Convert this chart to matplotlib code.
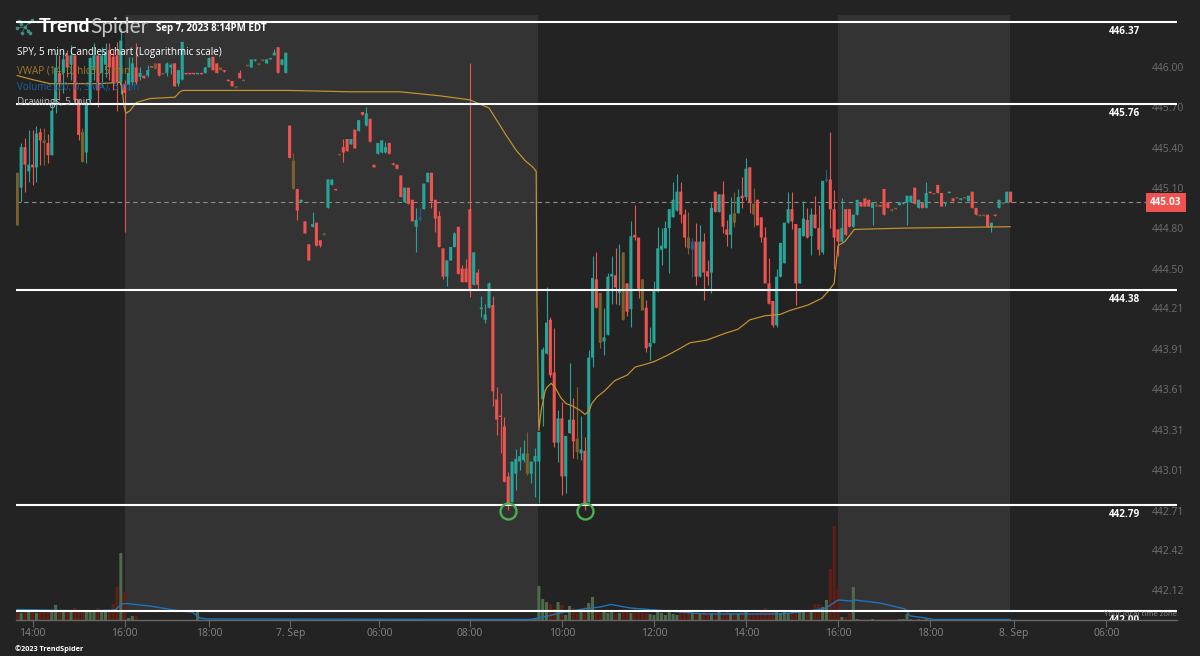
import matplotlib
matplotlib.use("Agg")
import matplotlib.pyplot as plt
from matplotlib.lines import Line2D
from matplotlib.transforms import ScaledTranslation

plt.rcParams['font.family'] = ['Open Sans', 'DejaVu Sans']

tones = ("ygrgrgryrg" "grgrgrrygg" "grggrrrgrg" "grgrgryryg" "grggrrrgrg"
         "grryrrryry" "yggyygggrg" "gryrgrrgrr" "yggryrrgrg" "rgrrgggrrr"
         "rgrrgbggrr" "rrgggrrrrg" "rgggrrrrrg" "gggygggggr"
         "rgrggrygrg" "grygggrgyr" "grryrggggg" "gggrrybrgr" "rgrgrrgygr"
         "gryrrrrrgg" "ggrrggrgrr" "gbrrrgrrgg" "rrrgyrrryy" "ggggrgrgry"
         "rrggrygygr" "ryyrgrgygr")

body_top = [
 445.25,445.44,445.44,445.31,445.31,445.54,445.55,445.49,445.47,445.71,
 446.03,445.99,446.09,446.12,446.12,446.12,445.79,445.55,445.77,446.10,
 446.12,446.12,446.12,446.14,446.16,446.11,446.12,446.23,445.91,445.99,
 446.06,446.03,445.99,445.97,446.01,446.04,446.06,446.06,445.99,446.06,
 446.05,446.06,446.01,446.22,445.99,445.99,445.99,445.99,445.99,446.03,
 446.10,446.11,446.06,446.03,446.01,445.94,445.93,445.89,445.99,445.94,
 446.05,446.09,446.09,446.06,446.09,446.09,446.10,446.14,446.18,446.09,
 446.14,445.60,445.34,445.13,445.05,444.89,444.72,444.87,444.88,444.75,
 444.80,445.20,445.20,445.13,445.39,445.44,445.50,445.50,445.57,445.64,
 445.70,445.69,445.65,445.31,445.47,445.49,445.44,445.47,445.32,445.31,
 445.23,445.14,445.14,445.05,444.90,444.92,445.17,445.25,445.25,445.05,
 444.93,444.69,444.60,444.70,444.80,444.85,444.54,444.54,444.98,444.66,
 444.51,444.25,444.20,444.43,444.27,443.57,443.45,443.37,443.00,443.11,
 443.13,443.15,443.17,443.17,443.11,443.15,443.33,443.94,444.14,444.16,
 443.77,443.43,443.43,443.30,443.42,443.42,443.28,443.20,443.19,443.88,
 444.47,444.46,444.36,444.03,444.48,444.50,444.49,444.38,444.66,444.43,
 444.78,444.79,444.77,444.46,444.25,443.99,444.38,444.69,444.71,444.84,
 444.98,445.05,445.11,445.11,444.94,444.77,444.74,444.74,444.74,444.74,
 444.52,444.99,445.11,445.09,445.09,444.83,444.94,444.95,445.07,445.08,
 445.28,445.29,445.02,445.05,444.92,444.77,444.43,444.30,444.48,444.73,
 444.88,444.98,444.98,444.87,444.84,444.91,444.90,444.94,444.94,444.84,
 445.19,445.20,445.20,444.98,444.83,444.84,444.98,444.98,444.94,445.05,
 445.03,445.06,445.05,445.03,445.01,445.01,445.13,445.03,444.98,444.99,
 445.03,445.03,445.08,445.08,445.14,445.05,445.03,445.10,445.11,445.10,
 445.16,445.10,445.03,445.11,445.06,445.07,445.06,445.07,445.08,445.11,
 444.99,444.94,444.94,444.94,444.88,444.94,445.05,445.03,445.11,445.11]

body_bottom = [
 444.86,445.14,445.31,445.26,445.29,445.29,445.49,445.47,445.38,445.38,
 445.77,445.91,445.99,446.03,446.05,445.79,445.53,445.33,445.40,445.79,
 446.01,445.86,445.99,446.05,446.03,445.92,445.92,445.92,445.84,445.90,
 445.92,445.92,445.96,445.95,445.97,446.03,446.02,445.97,445.98,445.99,
 446.03,445.89,445.91,445.94,445.98,445.98,445.98,445.98,445.98,445.99,
 446.03,446.01,445.99,446.01,446.00,445.93,445.89,445.88,445.95,445.93,
 446.04,446.03,446.08,446.05,446.08,446.06,446.09,446.12,445.99,446.05,
 445.99,445.36,445.13,444.97,445.03,444.80,444.60,444.85,444.71,444.71,
 444.79,444.99,445.16,445.12,445.38,445.40,445.41,445.46,445.43,445.56,
 445.68,445.60,445.48,445.29,445.39,445.40,445.40,445.39,445.31,445.28,
 445.07,445.03,445.02,444.89,444.85,444.90,444.98,445.18,445.04,444.91,
 444.70,444.48,444.48,444.60,444.70,444.50,444.44,444.44,444.39,444.42,
 444.42,444.24,444.16,444.25,443.63,443.42,443.44,442.96,442.80,442.81,
 443.02,443.11,443.12,443.02,443.02,443.11,443.11,443.57,443.91,443.75,
 443.25,443.25,443.00,443.00,443.32,443.26,443.18,443.17,442.80,442.81,
 443.88,444.25,443.99,444.00,444.05,444.48,444.40,444.36,444.16,444.22,
 444.24,444.77,444.39,444.23,443.95,443.96,443.99,444.37,444.68,444.69,
 444.84,444.92,444.97,444.94,444.77,444.69,444.68,444.48,444.48,444.51,
 444.48,444.51,444.96,444.96,444.85,444.79,444.79,444.88,444.95,445.06,
 445.07,445.03,444.94,444.86,444.77,444.43,444.28,444.12,444.12,444.48,
 444.58,444.88,444.89,444.43,444.43,444.78,444.77,444.78,444.84,444.68,
 444.66,445.19,444.98,444.77,444.74,444.74,444.79,444.85,444.85,444.94,
 445.00,445.00,445.00,444.99,445.00,445.00,444.94,444.99,444.97,444.98,
 445.01,445.02,445.03,445.03,445.02,444.99,444.99,444.99,445.10,445.09,
 445.10,445.00,445.02,445.10,445.04,445.06,445.05,445.06,445.04,444.99,
 444.94,444.93,444.93,444.85,444.85,444.93,444.99,445.02,445.03,445.03]

highs = [
 445.25,445.47,445.51,445.57,445.57,445.60,445.58,445.58,445.54,445.77,
 446.14,446.12,446.16,446.16,446.20,446.12,445.79,445.58,445.80,446.11,
 446.21,446.12,446.18,446.21,446.21,446.17,446.22,446.32,445.94,446.11,
 446.11,446.21,446.03,445.97,446.05,446.04,446.06,446.06,445.99,446.07,
 446.06,446.06,446.01,446.22,445.99,445.99,445.99,445.99,445.99,446.03,
 446.11,446.11,446.06,446.03,446.01,445.94,445.93,445.89,446.01,445.94,
 446.05,446.09,446.09,446.06,446.09,446.09,446.10,446.17,446.18,446.09,
 446.14,445.60,445.40,445.13,445.05,444.89,444.72,444.96,444.88,444.75,
 444.80,445.20,445.20,445.13,445.39,445.50,445.50,445.50,445.57,445.64,
 445.70,445.74,445.65,445.31,445.47,445.49,445.48,445.48,445.32,445.31,
 445.23,445.14,445.14,445.05,444.99,444.99,445.17,445.25,445.25,445.05,
 444.97,444.69,444.60,444.70,444.81,444.85,444.57,444.61,446.06,444.66,
 444.54,444.34,444.28,444.44,444.34,443.66,443.62,443.44,443.03,443.11,
 443.20,443.22,443.27,443.33,443.11,443.21,443.33,443.96,444.40,444.18,
 444.10,443.49,443.55,443.30,443.84,443.58,443.66,443.45,443.29,443.94,
 444.63,444.66,444.36,444.25,444.51,444.63,444.69,444.72,444.66,444.43,
 444.89,445.01,444.77,444.46,444.31,444.11,444.45,444.85,444.84,444.89,
 444.98,445.18,445.24,445.18,444.98,444.96,444.77,444.88,444.86,444.80,
 444.60,445.03,445.11,445.09,445.19,444.90,445.07,445.11,445.13,445.22,
 445.36,445.29,445.14,445.05,444.92,444.85,444.62,444.30,444.54,444.73,
 444.88,445.11,445.11,444.87,444.84,445.04,444.99,444.99,445.08,445.01,
 445.19,445.28,445.55,445.12,444.83,445.06,444.98,444.98,444.94,445.05,
 445.03,445.06,445.05,445.03,445.04,445.01,445.13,445.03,444.98,444.99,
 445.03,445.03,445.08,445.08,445.14,445.05,445.03,445.18,445.11,445.10,
 445.16,445.10,445.03,445.11,445.06,445.07,445.06,445.07,445.08,445.11,
 444.99,444.94,444.94,444.94,444.88,444.94,445.05,445.03,445.11,445.11]

lows = [
 444.86,445.03,445.11,445.18,445.16,445.18,445.31,445.31,445.32,445.38,
 445.69,445.79,445.84,445.96,445.94,445.77,445.49,445.33,445.32,445.77,
 445.94,445.74,445.89,445.96,445.94,445.86,445.71,445.83,444.81,445.86,
 445.90,445.91,445.94,445.95,445.96,446.03,446.02,445.97,445.98,445.97,
 445.98,445.89,445.89,445.94,445.98,445.98,445.98,445.98,445.98,445.99,
 446.03,446.01,445.99,446.01,446.00,445.93,445.89,445.88,445.95,445.93,
 446.04,446.03,446.08,446.05,446.08,446.06,446.09,446.12,445.99,446.05,
 445.99,445.36,445.13,444.90,445.03,444.80,444.60,444.85,444.71,444.70,
 444.79,444.99,445.16,445.12,445.38,445.33,445.41,445.46,445.43,445.56,
 445.68,445.60,445.48,445.29,445.39,445.40,445.40,445.39,445.31,445.28,
 445.07,445.03,445.02,444.89,444.66,444.89,444.98,445.18,444.99,444.81,
 444.70,444.46,444.41,444.60,444.70,444.50,444.44,444.44,444.33,444.42,
 444.39,444.18,444.14,444.25,443.52,443.31,443.17,442.96,442.75,442.81,
 442.90,443.05,443.11,443.01,442.95,442.85,442.80,443.37,443.91,443.74,
 443.22,443.11,442.86,442.88,443.32,443.14,443.13,443.12,442.75,442.81,
 443.81,444.25,443.95,443.90,444.05,444.28,444.28,444.27,444.16,444.19,
 444.11,444.75,444.32,444.23,443.92,443.86,443.99,444.37,444.57,444.69,
 444.51,444.92,444.97,444.88,444.70,444.65,444.48,444.42,444.48,444.31,
 444.42,444.36,444.96,444.96,444.80,444.71,444.69,444.85,444.95,444.99,
 445.05,444.95,444.85,444.86,444.74,444.43,444.28,444.11,444.11,444.48,
 444.58,444.88,444.83,444.27,444.43,444.78,444.77,444.64,444.84,444.64,
 444.65,445.18,444.84,444.54,444.63,444.74,444.79,444.85,444.85,444.94,
 445.00,445.00,445.00,444.86,445.00,445.00,444.94,444.99,444.97,444.98,
 445.01,445.02,444.86,445.03,445.02,444.99,444.99,444.99,445.10,445.09,
 445.10,445.00,445.00,445.10,445.04,445.06,445.05,445.06,445.04,444.99,
 444.94,444.93,444.93,444.85,444.81,444.93,444.99,445.02,445.03,445.03]

volume = [
 8,7,8,9,8,7,8,8,8,9, 15,8,8,8,9,12,9,8,8,9, 10,12,8,9,8,16,33,67,28,2,
 4,4,0,0,0,0,0,0,0,0, 0,0,0,0,0,0,0,9,0,0, 0,0,0,0,0,0,0,0,0,0,
 0,0,0,0,0,0,0,0,0,0, 0,0,0,0,0,0,0,0,0,0, 0,0,0,0,0,0,0,0,0,0,
 0,0,0,0,0,0,0,0,0,0, 0,0,0,0,0,0,0,0,0,0, 0,0,0,0,0,0,0,0,0,0,
 0,0,0,0,0,0,0,0,0,0, 1,1,1,1,1,2,34,21,18,16, 11,18,15,5,14,12,7,11,13,17,
 23,8,7,9,7,8,6,7,8,9, 7,11,8,7,7,6,5,9,7,5, 8,6,5,8,8,7,7,6,7,8,
 5,7,6,9,6,8,7,6,7,8, 8,6,6,7,8,12,8,9,8,7, 8,7,9,8,8,9,7,8,16,16,
 13,20,51,94,31,3,3,7,33,1, 1,1,1,1,1,1,1,1,1,1, 1,1,6,1,1,1,1,1,1,1,
 0,0,0,0,0,0,0,0,0,0, 0,0,0,0,0,0,0,0,0,0]

vwap_slots = [0,4,8.5,21.6,26.8,27.3,27.8,28.3,29.4,31,34.6,41.1,42.4,43.2,50.2,71,86.7,99.8,
 110.2,118,123,125,127.2,130,132.4,134.5,135.3,135.5,136,136.6,137.6,138.1,139.2,140.2,141.8,
 143.1,144.9,146.7,148,149,149.8,151.2,153,155.8,159,161.1,163.7,166,169.7,172.3,175.4,179.8,
 184.5,187.9,191,194.9,198.9,201.5,206.2,209.8,211.4,213,213.5,214,215.8,217.7,218.2,231.5,258.9]
vwap_values = [445.97,445.94,445.91,445.91,445.92,445.88,445.75,445.69,445.71,445.77,445.80,445.81,
 445.85,445.86,445.86,445.86,445.85,445.85,445.82,445.79,445.73,445.64,445.54,445.42,445.34,
 445.29,445.26,444.31,443.34,443.49,443.63,443.66,443.69,443.66,443.58,443.54,443.52,443.49,
 443.46,443.48,443.54,443.59,443.63,443.71,443.75,443.81,443.83,443.85,443.90,443.94,443.99,
 444.01,444.06,444.09,444.16,444.19,444.20,444.23,444.27,444.32,444.37,444.43,444.57,444.71,
 444.74,444.81,444.83,444.84,444.85]

volma_slots = [0,17.6,25.5,27.3,28.3,34.6,42.4,45.6,47.6,49.7,133.7,135.8,138.4,141.5,147.5,151.9,
 154.8,159.8,169.7,179.3,198.9,206.7,210.9,214,217.4,218.4,224.9,231.5,232.8,236.9,238.8,258.9]
volma_values = [10.5,9,10,16,16.5,14,9,8,2,1,0.5,2,4,7,11,13,15.5,12,9,6,6,9,12,20,19,20,17,11,4,2,0.5,0.5]

level_values = [446.37, 445.76, 444.38, 442.79, 442.00]
level_labels = ["446.37", "445.76", "444.38", "442.79", "442.00"]
price_ticks = [446.00,445.70,445.40,445.10,444.80,444.50,444.21,443.91,443.61,443.31,443.01,442.71,442.42,442.12]
price_labels = ["446.00","445.70","445.40","445.10","444.80","444.50","444.21","443.91","443.61","443.31","443.01","442.71","442.42","442.12"]
time_slots = [4,28,50,71.2,94.4,118,142,166,190,214,238,259.8,284]
time_labels = ["14:00","16:00","18:00","7. Sep","06:00","08:00","10:00","12:00","14:00","16:00","18:00","8. Sep","06:00"]
extended_sessions = [(28.06,135.8),(213.9,258.9)]
last_price = 445.03
pivot_slots = [128,148]
pivot_prices = [442.74,442.74]

BG="#232323"; SHADE="#333333"
COL={'g':"#26a69a",'r':"#ef5350",'y':"#7d5f2c",'b':"#1f5f93"}
VOLUP="#4d6b4b"; VOLDN="#5e2016"

W,H=1200,656
fig=plt.figure(figsize=(12,6.56),dpi=100,facecolor=BG)
rect=[16/W,(H-620)/H,1161/W,620/H]
vax=fig.add_axes(rect,facecolor=BG,zorder=1)
ax=fig.add_axes(rect,facecolor='none',zorder=2)
slots=list(range(len(tones)))
xlim=(-0.34,302.4)
for a in (ax,vax):
    a.set_xlim(*xlim)
ax.set_ylim(441.936,446.53)
vax.set_ylim(0,620)
vax.set_xticks([]); vax.set_yticks([])
for a in (ax,vax):
    for s in a.spines.values(): s.set_visible(False)
ax.spines['bottom'].set_visible(True)
ax.spines['bottom'].set_color("#666666")
ax.spines['bottom'].set_linewidth(1)

for a,b in extended_sessions:
    vax.axvspan(a,b,ymin=9/620,ymax=605/620,color=SHADE,lw=0,zorder=0)
vbars=vax.bar(slots,volume,width=0.8,color=[VOLUP if t in 'gb' else VOLDN for t in tones],lw=0,zorder=2)
vax.plot(volma_slots,volma_values,color="#1c74bb",lw=1,zorder=3)
for p in vbars: p.set_snap(False)

colors=[COL[t] for t in tones]
ax.vlines(slots,lows,highs,colors=colors,lw=0.8,zorder=3)
bars=ax.bar(slots,[t-b for t,b in zip(body_top,body_bottom)],bottom=body_bottom,width=0.8,color=colors,lw=0,zorder=4)
for p in bars: p.set_snap(False)
ax.plot(vwap_slots,vwap_values,color="#c8962e",lw=0.85,zorder=5)
for v,l in zip(level_values,level_labels):
    ax.axhline(v,color="white",lw=1.5,zorder=6)
    t=ax.annotate(l,xy=(1140-16,v),xycoords=('axes pixels','data'),xytext=(0,-9.5),textcoords='offset pixels',
                ha='right',va='center',color='white',fontsize=7.1,fontweight='bold',zorder=7,annotation_clip=False)
    t.set_clip_on(True); t.set_clip_path(ax.patch)
ax.axhline(last_price,xmax=(1146-16)/1161,color="#8a8a8a",lw=0.8,ls=(0,(4,3)),zorder=2)
ax.annotate(f"{last_price:.2f}",xy=(1166-16,last_price),xycoords=('axes pixels','data'),ha='center',va='center',
            color='white',fontsize=7.2,fontweight='bold',zorder=8,
            bbox=dict(boxstyle='square,pad=0.4',fc="#ef5350",ec='none'),annotation_clip=False)
ax.plot(pivot_slots,pivot_prices,ls='none',marker='o',ms=11.5,mfc='none',mec="#4caf50",mew=1.7,zorder=7)

ax.yaxis.tick_right()
ax.set_yticks(price_ticks,price_labels)
ax.tick_params(axis='y',length=0,pad=-18,labelsize=7.5,labelcolor="#6f6f6f")
for tk in ax.yaxis.get_major_ticks():
    tk.label2.set_va('bottom'); tk.label2.set_ha('left')
    tk.label2.set_transform(tk.label2.get_transform()+ScaledTranslation(0,-2/100,fig.dpi_scale_trans))
ax.set_xticks(time_slots,time_labels)
ax.tick_params(axis='x',length=5,width=0.8,color="#666666",labelcolor="#858585",labelsize=7.5,pad=1)

def ftext(x,y,s,**k):
    fig.text(x/W,1-y/H,s,va='center',**k)
ftext(39,27,"Trend",color='white',fontsize=14,fontweight='bold',family=['Lato','DejaVu Sans'])
ftext(90,27,"Spider",color='#c4c4c4',fontsize=15,fontweight='normal',family=['Lato','DejaVu Sans'],zorder=10)
ftext(156,28,"Sep 7, 2023 8:14PM EDT",color='white',fontsize=7,fontweight='bold')
ftext(17,52,"SPY, 5 min, Candles chart (Logarithmic scale)",color='white',fontsize=7.1,fontweight='medium')
ftext(17,71,"VWAP (14, 0, hlc3), 5 min",color="#a07c28",fontsize=7.1)
ftext(17,87,"Volume (20, 0, SMA), 5 min",color="#1f5f9f",fontsize=7.1)
ftext(17,102,"Drawings, 5 min",color="#b8b8b8",fontsize=7.1)
ftext(15,649,"©2023 TrendSpider",color='white',fontsize=5.2,fontweight='bold')
fig.text(1177/W,1-615/H,"Your local time zone",ha='right',va='center',color="#8a8a8a",fontsize=5.6)

# logo mark
lx=[17,21,25,29,32,22,28,19,30]
ly=[28,24,27,22,20,33,31,21,33]
fig.add_artist(Line2D([v/W for v in lx],[1-v/H for v in ly],ls='none',marker='o',ms=1.6,color="#3f8f86",transform=fig.transFigure))
fig.add_artist(Line2D([v/W for v in (17,25,32)],[1-v/H for v in (28,27,20)],lw=0.5,color="#3f8f86",transform=fig.transFigure))
fig.add_artist(Line2D([v/W for v in (22,25,30)],[1-v/H for v in (33,27,33)],lw=0.5,color="#3f8f86",transform=fig.transFigure))

fig.savefig("out.png",dpi=100,facecolor=BG)
